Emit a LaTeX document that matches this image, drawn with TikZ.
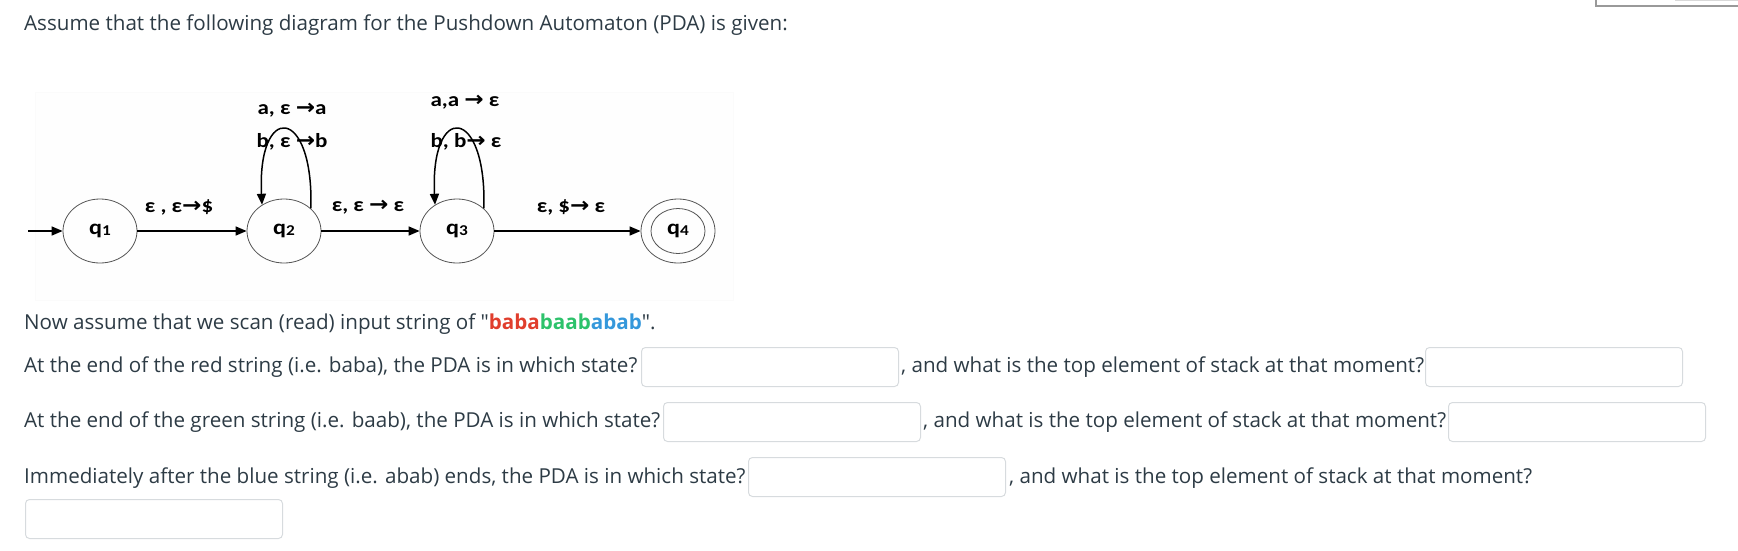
\documentclass[tikz,border=0pt]{standalone}
\usepackage{fontspec}
\setmainfont{Open Sans}[Ligatures=TeXOff]
\newfontfamily\dia{Carlito}[FakeStretch=1.15]
\newfontfamily\arrf{DejaVu Sans}[FakeStretch=1.1]
\usetikzlibrary{arrows.meta,shapes.geometric}
\definecolor{txt}{HTML}{2D3B45}
\definecolor{boxc}{HTML}{D7DBDE}
\definecolor{redw}{HTML}{E03E2D}
\definecolor{greenw}{HTML}{2DC26B}
\definecolor{bluew}{HTML}{3598DB}
\definecolor{circc}{HTML}{555555}
\definecolor{diabg}{HTML}{FEFEFE}
\definecolor{diabd}{HTML}{FBFBFB}
\newcommand{\ar}{{\arrf\bfseries\fontsize{21}{22}\selectfont →}}
\newcommand{\qs}[1]{q{\fontsize{15}{16}\selectfont\raisebox{-1pt}{#1}}}
\tikzset{
  pstate/.style={ellipse,draw=circc,line width=0.8pt,minimum width=74pt,minimum height=64pt,inner sep=0pt,
    font=\dia\bfseries\fontsize{21}{23}\selectfont},
  edge/.style={-{Triangle[length=11pt,width=9pt]},line width=1.5pt},
  lbl/.style={font=\dia\bfseries\fontsize{20}{23}\selectfont,inner sep=0pt,text=black},
  qtext/.style={anchor=base west,font=\fontsize{20.6}{24}\selectfont,text=txt,inner sep=0pt},
  ansbox/.style={draw=boxc,rounded corners=4pt,line width=1pt,minimum width=257pt,minimum height=39pt,inner sep=0pt,anchor=north west}
}
\begin{document}
\begin{tikzpicture}[x=1pt,y=-1pt]
\useasboundingbox (0,0) rectangle (1738,550);
% top right widget
\draw[draw=black!40,line width=1.2pt] (1596,-6) rectangle (1745,6);
\fill[black!15] (1675,-2) rectangle (1738,1);
% faint image background
\filldraw[fill=diabg,draw=diabd] (35,92) rectangle (733,300);
% title
\node[qtext] (t1) at (24,30) {Assume that the following diagram for the Pushdown Automaton (PDA) is given:};
% diagram
\node[pstate] (q1) at (100,231) {\qs1};
\node[pstate] (q2) at (284,231) {\qs2};
\node[pstate] (q3) at (457,231) {\qs3};
\node[pstate] (q4) at (678,231) {\qs4};
\node[ellipse,draw=circc,line width=0.8pt,minimum width=54pt,minimum height=45pt,inner sep=0pt] (q4i) at (q4) {};
\coordinate (st) at (28,231);
\draw[edge] (st) -- (q1);
\draw[edge] (q1) -- (q2);
\draw[edge] (q2) -- (q3);
\draw[edge] (q3) -- (q4);
\node[lbl] (l12) at (179,207) {ε , ε\ar\$};
\node[lbl] (l23) at (368,207) {ε, ε \ar{} ε};
\node[lbl] (l34) at (571,207) {ε, \$\ar{} ε};
\node[lbl] (l2a) at (292,110) {a, ε \ar a};
\node[lbl] (l2b) at (292,142) {b, ε \ar b};
\node[lbl] (l3a) at (465,102) {a,a \ar{} ε};
\node[lbl] (l3b) at (466,142) {b, b\ar{} ε};
\draw[edge] (q2.40) .. controls +(3,-103) and +(-5,-103) .. (q2.130);
\draw[edge] (q3.40) .. controls +(3,-103) and +(-5,-103) .. (q3.130);
% questions
\node[qtext] (t2) at (24,329) {Now assume that we scan (read) input string of "\textbf{\textcolor{redw}{baba}\textcolor{greenw}{baab}\textcolor{bluew}{abab}}".};
\node[qtext] (t3) at (24,372) {At the end of the red string (i.e. baba), the PDA is in which state?};
\node[ansbox] (b1) at (641,347) {};
\node[qtext] (t3b) at (901,372) {, and what is the top element of stack at that moment?};
\node[ansbox] (b2) at (1425,347) {};
\node[qtext] (t4) at (24,427) {At the end of the green string (i.e. baab), the PDA is in which state?};
\node[ansbox] (b3) at (663,402) {};
\node[qtext] (t4b) at (923,427) {, and what is the top element of stack at that moment?};
\node[ansbox] (b4) at (1448,402) {};
\node[qtext] (t5) at (24,483) {Immediately after the blue string (i.e. abab) ends, the PDA is in which state?};
\node[ansbox] (b5) at (748,457) {};
\node[qtext] (t5b) at (1009,483) {, and what is the top element of stack at that moment?};
\node[ansbox] (b6) at (25,499) {};
\end{tikzpicture}
\end{document}
